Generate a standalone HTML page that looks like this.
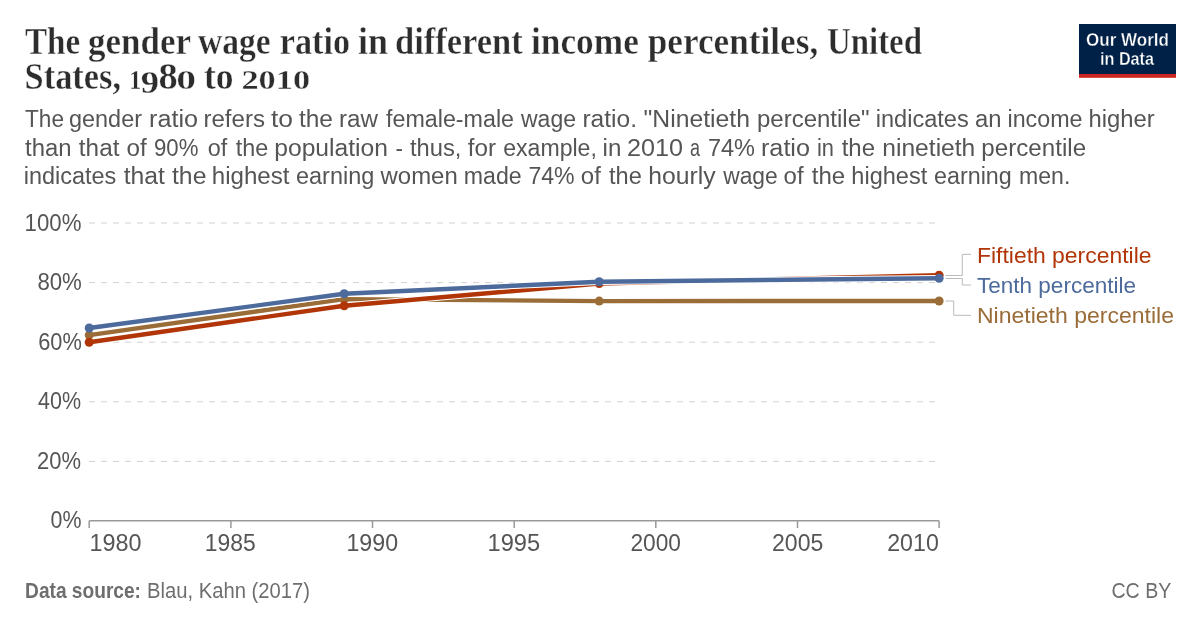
<!DOCTYPE html>
<html>
<head>
<meta charset="utf-8">
<style>
html,body{margin:0;padding:0;background:#fff;}
body{width:1200px;height:627px;overflow:hidden;}
svg{display:block;will-change:transform;}
.sans{font-family:"Liberation Sans",sans-serif;}
.serif{font-family:"Liberation Serif",serif;}
</style>
</head>
<body>
<svg width="1200" height="627" viewBox="0 0 1200 627">
<rect width="1200" height="627" fill="#fff"/>
<text id="t1w0" x="25.00" y="54.00" textLength="55.22" lengthAdjust="spacingAndGlyphs" class="serif" font-size="37" fill="#2d2d2d" font-weight="bold" stroke="#fff" stroke-width="0.4">The</text>
<text id="t1w1" x="88.00" y="54.00" textLength="103.00" lengthAdjust="spacingAndGlyphs" class="serif" font-size="37" fill="#2d2d2d" font-weight="bold" stroke="#fff" stroke-width="0.4">gender</text>
<text id="t1w2" x="197.97" y="54.00" textLength="72.82" lengthAdjust="spacingAndGlyphs" class="serif" font-size="37" fill="#2d2d2d" font-weight="bold" stroke="#fff" stroke-width="0.4">wage</text>
<text id="t1w3" x="279.78" y="54.00" textLength="70.24" lengthAdjust="spacingAndGlyphs" class="serif" font-size="37" fill="#2d2d2d" font-weight="bold" stroke="#fff" stroke-width="0.4">ratio</text>
<text id="t1w4" x="357.96" y="54.00" textLength="30.05" lengthAdjust="spacingAndGlyphs" class="serif" font-size="37" fill="#2d2d2d" font-weight="bold" stroke="#fff" stroke-width="0.4">in</text>
<text id="t1w5" x="395.00" y="54.00" textLength="127.81" lengthAdjust="spacingAndGlyphs" class="serif" font-size="37" fill="#2d2d2d" font-weight="bold" stroke="#fff" stroke-width="0.4">different</text>
<text id="t1w6" x="531.00" y="54.00" textLength="107.80" lengthAdjust="spacingAndGlyphs" class="serif" font-size="37" fill="#2d2d2d" font-weight="bold" stroke="#fff" stroke-width="0.4">income</text>
<text id="t1w7" x="647.79" y="54.00" textLength="170.41" lengthAdjust="spacingAndGlyphs" class="serif" font-size="37" fill="#2d2d2d" font-weight="bold" stroke="#fff" stroke-width="0.4">percentiles,</text>
<text id="t1w8" x="827.01" y="54.00" textLength="94.99" lengthAdjust="spacingAndGlyphs" class="serif" font-size="37" fill="#2d2d2d" font-weight="bold" stroke="#fff" stroke-width="0.4">United</text>
<text id="t2a" x="24.60" y="89.30" textLength="96.44" lengthAdjust="spacingAndGlyphs" class="serif" font-size="37" fill="#2d2d2d" font-weight="bold" stroke="#fff" stroke-width="0.4">States,</text>
<text id="t2b" x="129.25" y="89.30" textLength="11.94" lengthAdjust="spacingAndGlyphs" class="serif" font-size="27.5" fill="#2d2d2d" font-weight="bold" stroke="#fff" stroke-width="0.3">1</text>
<text id="t2c" x="140.87" y="93.20" textLength="18.24" lengthAdjust="spacingAndGlyphs" class="serif" font-size="32.5" fill="#2d2d2d" font-weight="bold" stroke="#fff" stroke-width="0.3">9</text>
<text id="t2d" x="158.45" y="89.30" textLength="19.22" lengthAdjust="spacingAndGlyphs" class="serif" font-size="37" fill="#2d2d2d" font-weight="bold" stroke="#fff" stroke-width="0.4">8</text>
<text id="t2e" x="176.33" y="89.30" textLength="19.82" lengthAdjust="spacingAndGlyphs" class="serif" font-size="27.5" fill="#2d2d2d" font-weight="bold" stroke="#fff" stroke-width="0.3">0</text>
<text id="t2f" x="203.88" y="89.30" textLength="29.58" lengthAdjust="spacingAndGlyphs" class="serif" font-size="37" fill="#2d2d2d" font-weight="bold" stroke="#fff" stroke-width="0.4">to</text>
<text id="t2g" x="241.48" y="89.30" textLength="68.56" lengthAdjust="spacingAndGlyphs" class="serif" font-size="27.5" fill="#2d2d2d" font-weight="bold" stroke="#fff" stroke-width="0.3">2010</text>
<rect id="logobox" x="1079" y="24" width="97" height="50.5" fill="#002147"/>
<rect id="logored" x="1079" y="74" width="97" height="3.8" fill="#ce261e"/>
<text id="logo1" x="1086.00" y="45.90" textLength="83.00" lengthAdjust="spacingAndGlyphs" class="sans" font-size="18.5" fill="#fff" font-weight="bold" stroke="#002147" stroke-width="0.35">Our World</text>
<text id="logo2" x="1100.02" y="64.80" textLength="53.99" lengthAdjust="spacingAndGlyphs" class="sans" font-size="18.5" fill="#fff" font-weight="bold" stroke="#002147" stroke-width="0.35">in Data</text>
<text id="s1w0" x="25.01" y="127.10" textLength="38.97" lengthAdjust="spacingAndGlyphs" class="sans" font-size="23.3" fill="#555555" font-weight="normal">The</text>
<text id="s1w1" x="69.01" y="127.10" textLength="73.00" lengthAdjust="spacingAndGlyphs" class="sans" font-size="23.3" fill="#555555" font-weight="normal">gender</text>
<text id="s1w2" x="149.02" y="127.10" textLength="48.96" lengthAdjust="spacingAndGlyphs" class="sans" font-size="23.3" fill="#555555" font-weight="normal">ratio</text>
<text id="s1w3" x="203.46" y="127.10" textLength="61.52" lengthAdjust="spacingAndGlyphs" class="sans" font-size="23.3" fill="#555555" font-weight="normal">refers</text>
<text id="s1w4" x="271.00" y="127.10" textLength="22.00" lengthAdjust="spacingAndGlyphs" class="sans" font-size="23.3" fill="#555555" font-weight="normal">to</text>
<text id="s1w5" x="298.96" y="127.10" textLength="34.03" lengthAdjust="spacingAndGlyphs" class="sans" font-size="23.3" fill="#555555" font-weight="normal">the</text>
<text id="s1w6" x="339.05" y="127.10" textLength="38.98" lengthAdjust="spacingAndGlyphs" class="sans" font-size="23.3" fill="#555555" font-weight="normal">raw</text>
<text id="s1w7" x="386.00" y="127.10" textLength="127.99" lengthAdjust="spacingAndGlyphs" class="sans" font-size="23.3" fill="#555555" font-weight="normal">female-male</text>
<text id="s1w8" x="520.99" y="127.10" textLength="54.98" lengthAdjust="spacingAndGlyphs" class="sans" font-size="23.3" fill="#555555" font-weight="normal">wage</text>
<text id="s1w9" x="582.45" y="127.10" textLength="54.60" lengthAdjust="spacingAndGlyphs" class="sans" font-size="23.3" fill="#555555" font-weight="normal">ratio.</text>
<text id="s1w10" x="643.49" y="127.10" textLength="106.52" lengthAdjust="spacingAndGlyphs" class="sans" font-size="23.3" fill="#555555" font-weight="normal">&quot;Ninetieth</text>
<text id="s1w11" x="757.01" y="127.10" textLength="112.49" lengthAdjust="spacingAndGlyphs" class="sans" font-size="23.3" fill="#555555" font-weight="normal">percentile&quot;</text>
<text id="s1w12" x="875.75" y="127.10" textLength="93.01" lengthAdjust="spacingAndGlyphs" class="sans" font-size="23.3" fill="#555555" font-weight="normal">indicates</text>
<text id="s1w13" x="974.99" y="127.10" textLength="26.51" lengthAdjust="spacingAndGlyphs" class="sans" font-size="23.3" fill="#555555" font-weight="normal">an</text>
<text id="s1w14" x="1007.50" y="127.10" textLength="75.02" lengthAdjust="spacingAndGlyphs" class="sans" font-size="23.3" fill="#555555" font-weight="normal">income</text>
<text id="s1w15" x="1088.52" y="127.10" textLength="66.25" lengthAdjust="spacingAndGlyphs" class="sans" font-size="23.3" fill="#555555" font-weight="normal">higher</text>
<text id="s2w0" x="25.10" y="155.70" textLength="46.48" lengthAdjust="spacingAndGlyphs" class="sans" font-size="23.3" fill="#555555" font-weight="normal">than</text>
<text id="s2w1" x="78.89" y="155.70" textLength="40.52" lengthAdjust="spacingAndGlyphs" class="sans" font-size="23.3" fill="#555555" font-weight="normal">that</text>
<text id="s2w2" x="126.43" y="155.70" textLength="20.22" lengthAdjust="spacingAndGlyphs" class="sans" font-size="23.3" fill="#555555" font-weight="normal">of</text>
<text id="s2w3" x="154.04" y="155.70" textLength="44.43" lengthAdjust="spacingAndGlyphs" class="sans" font-size="23.3" fill="#555555" font-weight="normal">90%</text>
<text id="s2w4" x="207.81" y="155.70" textLength="19.51" lengthAdjust="spacingAndGlyphs" class="sans" font-size="23.3" fill="#555555" font-weight="normal">of</text>
<text id="s2w5" x="235.89" y="155.70" textLength="32.50" lengthAdjust="spacingAndGlyphs" class="sans" font-size="23.3" fill="#555555" font-weight="normal">the</text>
<text id="s2w6" x="274.22" y="155.70" textLength="113.76" lengthAdjust="spacingAndGlyphs" class="sans" font-size="23.3" fill="#555555" font-weight="normal">population</text>
<text id="s2w7" x="395.39" y="155.70" textLength="7.43" lengthAdjust="spacingAndGlyphs" class="sans" font-size="23.3" fill="#555555" font-weight="normal">-</text>
<text id="s2w8" x="410.00" y="155.70" textLength="51.38" lengthAdjust="spacingAndGlyphs" class="sans" font-size="23.3" fill="#555555" font-weight="normal">thus,</text>
<text id="s2w9" x="467.81" y="155.70" textLength="28.31" lengthAdjust="spacingAndGlyphs" class="sans" font-size="23.3" fill="#555555" font-weight="normal">for</text>
<text id="s2w10" x="503.21" y="155.70" textLength="93.66" lengthAdjust="spacingAndGlyphs" class="sans" font-size="23.3" fill="#555555" font-weight="normal">example,</text>
<text id="s2w11" x="602.59" y="155.70" textLength="18.82" lengthAdjust="spacingAndGlyphs" class="sans" font-size="23.3" fill="#555555" font-weight="normal">in</text>
<text id="s2w12" x="626.95" y="155.70" textLength="56.08" lengthAdjust="spacingAndGlyphs" class="sans" font-size="23.3" fill="#555555" font-weight="normal">2010</text>
<text id="s2w13" x="690.09" y="155.70" textLength="10.00" lengthAdjust="spacingAndGlyphs" class="sans" font-size="23.3" fill="#555555" font-weight="normal">a</text>
<text id="s2w14" x="708.01" y="155.70" textLength="46.99" lengthAdjust="spacingAndGlyphs" class="sans" font-size="23.3" fill="#555555" font-weight="normal">74%</text>
<text id="s2w15" x="760.99" y="155.70" textLength="49.00" lengthAdjust="spacingAndGlyphs" class="sans" font-size="23.3" fill="#555555" font-weight="normal">ratio</text>
<text id="s2w16" x="817.00" y="155.70" textLength="17.00" lengthAdjust="spacingAndGlyphs" class="sans" font-size="23.3" fill="#555555" font-weight="normal">in</text>
<text id="s2w17" x="841.70" y="155.70" textLength="33.40" lengthAdjust="spacingAndGlyphs" class="sans" font-size="23.3" fill="#555555" font-weight="normal">the</text>
<text id="s2w18" x="882.31" y="155.70" textLength="93.01" lengthAdjust="spacingAndGlyphs" class="sans" font-size="23.3" fill="#555555" font-weight="normal">ninetieth</text>
<text id="s2w19" x="981.39" y="155.70" textLength="104.71" lengthAdjust="spacingAndGlyphs" class="sans" font-size="23.3" fill="#555555" font-weight="normal">percentile</text>
<text id="s3w0" x="23.74" y="184.20" textLength="92.58" lengthAdjust="spacingAndGlyphs" class="sans" font-size="23.3" fill="#555555" font-weight="normal">indicates</text>
<text id="s3w1" x="123.70" y="184.20" textLength="41.30" lengthAdjust="spacingAndGlyphs" class="sans" font-size="23.3" fill="#555555" font-weight="normal">that</text>
<text id="s3w2" x="171.98" y="184.20" textLength="34.49" lengthAdjust="spacingAndGlyphs" class="sans" font-size="23.3" fill="#555555" font-weight="normal">the</text>
<text id="s3w3" x="211.77" y="184.20" textLength="77.74" lengthAdjust="spacingAndGlyphs" class="sans" font-size="23.3" fill="#555555" font-weight="normal">highest</text>
<text id="s3w4" x="295.98" y="184.20" textLength="78.29" lengthAdjust="spacingAndGlyphs" class="sans" font-size="23.3" fill="#555555" font-weight="normal">earning</text>
<text id="s3w5" x="380.50" y="184.20" textLength="77.24" lengthAdjust="spacingAndGlyphs" class="sans" font-size="23.3" fill="#555555" font-weight="normal">women</text>
<text id="s3w6" x="463.77" y="184.20" textLength="57.86" lengthAdjust="spacingAndGlyphs" class="sans" font-size="23.3" fill="#555555" font-weight="normal">made</text>
<text id="s3w7" x="528.39" y="184.20" textLength="46.29" lengthAdjust="spacingAndGlyphs" class="sans" font-size="23.3" fill="#555555" font-weight="normal">74%</text>
<text id="s3w8" x="580.87" y="184.20" textLength="20.00" lengthAdjust="spacingAndGlyphs" class="sans" font-size="23.3" fill="#555555" font-weight="normal">of</text>
<text id="s3w9" x="609.00" y="184.20" textLength="32.80" lengthAdjust="spacingAndGlyphs" class="sans" font-size="23.3" fill="#555555" font-weight="normal">the</text>
<text id="s3w10" x="648.21" y="184.20" textLength="67.29" lengthAdjust="spacingAndGlyphs" class="sans" font-size="23.3" fill="#555555" font-weight="normal">hourly</text>
<text id="s3w11" x="723.20" y="184.20" textLength="54.54" lengthAdjust="spacingAndGlyphs" class="sans" font-size="23.3" fill="#555555" font-weight="normal">wage</text>
<text id="s3w12" x="783.59" y="184.20" textLength="20.00" lengthAdjust="spacingAndGlyphs" class="sans" font-size="23.3" fill="#555555" font-weight="normal">of</text>
<text id="s3w13" x="811.76" y="184.20" textLength="33.44" lengthAdjust="spacingAndGlyphs" class="sans" font-size="23.3" fill="#555555" font-weight="normal">the</text>
<text id="s3w14" x="851.31" y="184.20" textLength="75.95" lengthAdjust="spacingAndGlyphs" class="sans" font-size="23.3" fill="#555555" font-weight="normal">highest</text>
<text id="s3w15" x="934.02" y="184.20" textLength="77.76" lengthAdjust="spacingAndGlyphs" class="sans" font-size="23.3" fill="#555555" font-weight="normal">earning</text>
<text id="s3w16" x="1019.00" y="184.20" textLength="51.30" lengthAdjust="spacingAndGlyphs" class="sans" font-size="23.3" fill="#555555" font-weight="normal">men.</text>
<g id="grid" stroke="#d2d2d2" stroke-width="1" stroke-dasharray="6,6">
<line x1="89" y1="223" x2="939" y2="223"/>
<line x1="89" y1="282.6" x2="939" y2="282.6"/>
<line x1="89" y1="342.2" x2="939" y2="342.2"/>
<line x1="89" y1="401.8" x2="939" y2="401.8"/>
<line x1="89" y1="461.4" x2="939" y2="461.4"/>
</g>
<text id="y100" x="24.61" y="230.60" textLength="56.80" lengthAdjust="spacingAndGlyphs" class="sans" font-size="23.0" fill="#555555" font-weight="normal">100%</text>
<text id="y80" x="37.39" y="290.20" textLength="44.42" lengthAdjust="spacingAndGlyphs" class="sans" font-size="23.0" fill="#555555" font-weight="normal">80%</text>
<text id="y60" x="38.20" y="349.60" textLength="43.58" lengthAdjust="spacingAndGlyphs" class="sans" font-size="23.0" fill="#555555" font-weight="normal">60%</text>
<text id="y40" x="38.00" y="409.20" textLength="43.00" lengthAdjust="spacingAndGlyphs" class="sans" font-size="23.0" fill="#555555" font-weight="normal">40%</text>
<text id="y20" x="37.02" y="468.80" textLength="43.98" lengthAdjust="spacingAndGlyphs" class="sans" font-size="23.0" fill="#555555" font-weight="normal">20%</text>
<text id="y0" x="50.53" y="527.90" textLength="30.92" lengthAdjust="spacingAndGlyphs" class="sans" font-size="23.0" fill="#555555" font-weight="normal">0%</text>
<g id="axis" stroke="#999999" stroke-width="1.5" fill="none">
<line x1="89.2" y1="520.8" x2="939.1" y2="520.8"/>
<line x1="89.2" y1="520.8" x2="89.2" y2="528"/>
<line x1="230.9" y1="520.8" x2="230.9" y2="528"/>
<line x1="372.5" y1="520.8" x2="372.5" y2="528"/>
<line x1="514.2" y1="520.8" x2="514.2" y2="528"/>
<line x1="655.8" y1="520.8" x2="655.8" y2="528"/>
<line x1="797.5" y1="520.8" x2="797.5" y2="528"/>
<line x1="939.1" y1="520.8" x2="939.1" y2="528"/>
</g>
<text id="x1980" x="89.55" y="550.90" textLength="52.04" lengthAdjust="spacingAndGlyphs" class="sans" font-size="23.0" fill="#555555" font-weight="normal">1980</text>
<text id="x1985" x="204.79" y="550.90" textLength="50.92" lengthAdjust="spacingAndGlyphs" class="sans" font-size="23.0" fill="#555555" font-weight="normal">1985</text>
<text id="x1990" x="346.47" y="550.90" textLength="51.55" lengthAdjust="spacingAndGlyphs" class="sans" font-size="23.0" fill="#555555" font-weight="normal">1990</text>
<text id="x1995" x="487.54" y="550.90" textLength="52.58" lengthAdjust="spacingAndGlyphs" class="sans" font-size="23.0" fill="#555555" font-weight="normal">1995</text>
<text id="x2000" x="630.38" y="550.90" textLength="50.52" lengthAdjust="spacingAndGlyphs" class="sans" font-size="23.0" fill="#555555" font-weight="normal">2000</text>
<text id="x2005" x="772.00" y="550.90" textLength="51.29" lengthAdjust="spacingAndGlyphs" class="sans" font-size="23.0" fill="#555555" font-weight="normal">2005</text>
<text id="x2010" x="887.22" y="550.90" textLength="51.55" lengthAdjust="spacingAndGlyphs" class="sans" font-size="23.0" fill="#555555" font-weight="normal">2010</text>
<g id="lines">
<polyline fill="none" stroke="#fff" stroke-width="6.4" stroke-linejoin="round" stroke-linecap="round" points="89.2,335.1 344.2,299.1 599.2,301.1 939.1,301"/>
<polyline fill="none" stroke="#9a6c38" stroke-width="4.4" stroke-linejoin="round" stroke-linecap="round" points="89.2,335.1 344.2,299.1 599.2,301.1 939.1,301"/>
<circle cx="89.2" cy="335.1" r="4.5" fill="#9a6c38"/>
<circle cx="344.2" cy="299.1" r="4.5" fill="#9a6c38"/>
<circle cx="599.2" cy="301.1" r="4.5" fill="#9a6c38"/>
<circle cx="939.1" cy="301" r="4.5" fill="#9a6c38"/>
<polyline fill="none" stroke="#fff" stroke-width="6.4" stroke-linejoin="round" stroke-linecap="round" points="89.2,342.2 344.2,305.7 599.2,283.5 939.1,275.3"/>
<polyline fill="none" stroke="#b13507" stroke-width="4.4" stroke-linejoin="round" stroke-linecap="round" points="89.2,342.2 344.2,305.7 599.2,283.5 939.1,275.3"/>
<circle cx="89.2" cy="342.2" r="4.5" fill="#b13507"/>
<circle cx="344.2" cy="305.7" r="4.5" fill="#b13507"/>
<circle cx="599.2" cy="283.5" r="4.5" fill="#b13507"/>
<circle cx="939.1" cy="275.3" r="4.5" fill="#b13507"/>
<polyline fill="none" stroke="#fff" stroke-width="6.4" stroke-linejoin="round" stroke-linecap="round" points="89.2,328.0 344.2,293.8 599.2,281.7 939.1,278.3"/>
<polyline fill="none" stroke="#4c6a9c" stroke-width="4.4" stroke-linejoin="round" stroke-linecap="round" points="89.2,328.0 344.2,293.8 599.2,281.7 939.1,278.3"/>
<circle cx="89.2" cy="328.0" r="4.5" fill="#4c6a9c"/>
<circle cx="344.2" cy="293.8" r="4.5" fill="#4c6a9c"/>
<circle cx="599.2" cy="281.7" r="4.5" fill="#4c6a9c"/>
<circle cx="939.1" cy="278.3" r="4.5" fill="#4c6a9c"/>
</g>
<g id="conn" stroke="#bbbbbb" stroke-width="1" fill="none">
<polyline points="945.5,275.5 962.3,275.5 962.3,254.3 971,254.3"/>
<polyline points="945.5,278.5 962.3,278.5 962.3,285 971,285"/>
<polyline points="945.5,301 953.7,301 953.7,315.3 971,315.3"/>
</g>
<text id="leg1" x="976.99" y="263.00" textLength="174.51" lengthAdjust="spacingAndGlyphs" class="sans" font-size="22.5" fill="#b13507" font-weight="normal">Fiftieth percentile</text>
<text id="leg2" x="977.00" y="293.20" textLength="159.00" lengthAdjust="spacingAndGlyphs" class="sans" font-size="22.5" fill="#4c6a9c" font-weight="normal">Tenth percentile</text>
<text id="leg3" x="976.99" y="323.40" textLength="197.03" lengthAdjust="spacingAndGlyphs" class="sans" font-size="22.5" fill="#9a6c38" font-weight="normal">Ninetieth percentile</text>
<text id="footb" x="25.09" y="597.90" textLength="115.91" lengthAdjust="spacingAndGlyphs" class="sans" font-size="21.8" fill="#6e6e6e" font-weight="bold">Data source:</text>
<text id="footr" x="146.99" y="597.90" textLength="163.01" lengthAdjust="spacingAndGlyphs" class="sans" font-size="21.8" fill="#6e6e6e" font-weight="normal">Blau, Kahn (2017)</text>
<text id="cc" x="1111.40" y="598.10" textLength="60.01" lengthAdjust="spacingAndGlyphs" class="sans" font-size="21.8" fill="#6e6e6e" font-weight="normal">CC BY</text>
</svg>
</body>
</html>
